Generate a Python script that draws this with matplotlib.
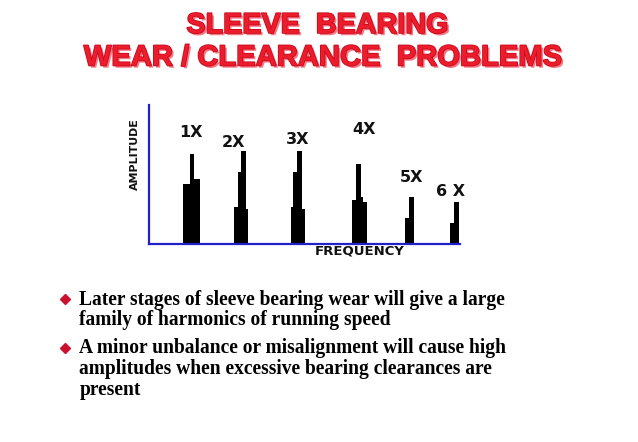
import matplotlib
matplotlib.use("Agg")
import matplotlib.pyplot as plt
import matplotlib.patheffects as pe
from matplotlib.lines import Line2D

# ---------------- data ----------------
title_lines = ["SLEEVE  BEARING", "WEAR / CLEARANCE  PROBLEMS"]
harmonic_labels = ["1X", "2X", "3X", "4X", "5X", "6 X"]

# stepped spectral peaks: frequency edges and amplitude of each step
edges_1x = [34.8, 41.5, 45.8, 51.5]
amps_1x = [60, 90, 65]
edges_2x = [85.2, 89.8, 92.2, 97.2, 99.8]
amps_2x = [37, 71.5, 93, 34.5]
edges_3x = [142.2, 144.8, 148.8, 153.8, 156.5]
amps_3x = [37, 71.5, 93, 35]
edges_4x = [203.8, 207.2, 212.0, 214.8, 218.5]
amps_4x = [43.5, 79.5, 47, 42]
edges_5x = [256.7, 260.8, 265.5]
amps_5x = [26, 47]
edges_6x = [301.0, 305.3, 310.3]
amps_6x = [21, 42]

bullets = [
    ["Later stages of sleeve bearing wear will give a large",
     "family of harmonics of running speed"],
    ["A minor unbalance or misalignment will cause high",
     "amplitudes when excessive bearing clearances are",
     "present"],
]

# ---------------- layout ----------------
W, H = 638, 442
fig = plt.figure(figsize=(W / 100, H / 100), dpi=100)
fig.patch.set_facecolor("white")


def fx(px):
    return px / W


def fy(py):
    return 1 - py / H


renderer = fig.canvas.get_renderer()


def fit_text(x, y, s, target_w, horizontal=True, **kw):
    fs = kw.pop("fontsize", 20)
    t = fig.text(x, y, s, fontsize=fs, **kw)
    for _ in range(3):
        ext = t.get_window_extent(renderer)
        w = ext.width if horizontal else ext.height
        fs = fs * target_w / w
        t.set_fontsize(fs)
    return t


# title
red = "#ec1c2c"
title_fx = [pe.SimplePatchShadow(offset=(1.6, -1.6), shadow_rgbFace="#f27a86", alpha=1.0),
            pe.Stroke(linewidth=1.2, foreground="#c80a1c"), pe.Normal()]
t1 = fit_text(fx(317), fy(25), title_lines[0], 262, ha="center", va="center",
              family="Liberation Sans", weight="bold", color=red)
t1.set_path_effects(title_fx)
t2 = fit_text(fx(323), fy(57.5), title_lines[1], 478, ha="center", va="center",
              family="Liberation Sans", weight="bold", color=red)
t2.set_path_effects(title_fx)

# chart axes
x0, x1 = 148.5, 460.0
yb, yt = 243.5, 105.0
ax = fig.add_axes([fx(x0), fy(yb), (x1 - x0) / W, (yb - yt) / H])
ax.set_xlim(0, x1 - x0)
ax.set_ylim(0, yb - yt)
ax.set_facecolor("none")
blue = "#1f22c8"
for side in ["top", "right"]:
    ax.spines[side].set_visible(False)
for side in ["left", "bottom"]:
    ax.spines[side].set_color(blue)
    ax.spines[side].set_linewidth(1.6)
ax.set_xticks([])
ax.set_yticks([])

groups = [(edges_1x, amps_1x), (edges_2x, amps_2x), (edges_3x, amps_3x),
          (edges_4x, amps_4x), (edges_5x, amps_5x), (edges_6x, amps_6x)]
for e, a in groups:
    ax.stairs(a, e, fill=True, color="black", baseline=0, zorder=2)

label_pos = [(42.5, 111), (85, 101), (149.5, 103.5), (215.5, 114.5), (263, 66.5), (302.5, 52.5)]
for lab, (lx, ly) in zip(harmonic_labels, label_pos):
    ax.text(lx, ly, lab, ha="center", va="center", fontsize=11.5, weight="bold",
            family="DejaVu Sans", color="#111111")

fit_text(fx(135), fy(154.5), "AMPLITUDE", 72, horizontal=False, rotation=90,
         ha="center", va="center", family="DejaVu Sans", weight="bold", color="#111111")
fit_text(fx(360), fy(251.5), "FREQUENCY", 90, ha="center", va="center",
         weight="bold", family="DejaVu Sans", color="#111111")

# bullets
baselines = [[305, 325.5], [353.5, 374.3, 395]]
bullet_y = [299, 347.5]
ref = fit_text(fx(79.3), fy(baselines[0][0]), bullets[0][0], 427, ha="left",
               va="baseline", family="Liberation Serif", weight="bold", color="black")
fs = ref.get_fontsize()
for bi, lines in enumerate(bullets):
    for li, line in enumerate(lines):
        if bi == 0 and li == 0:
            continue
        fig.text(fx(79.3), fy(baselines[bi][li]), line, ha="left", va="baseline",
                 fontsize=fs, family="Liberation Serif", weight="bold", color="black")
    fig.add_artist(Line2D([fx(65)], [fy(bullet_y[bi])], marker="D", markersize=5.5,
                          color="#cc1030", transform=fig.transFigure))

fig.savefig("out.png", dpi=100, facecolor="white")
